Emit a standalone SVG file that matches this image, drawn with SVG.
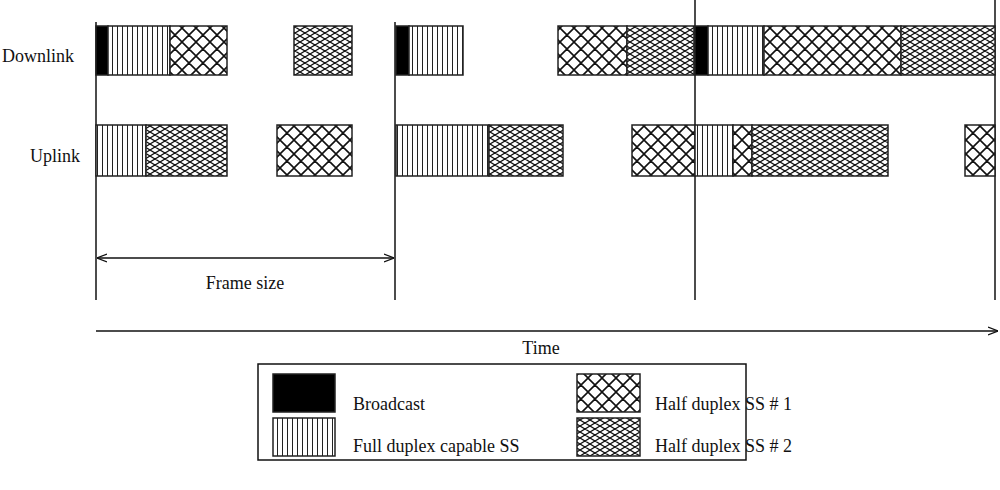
<svg xmlns="http://www.w3.org/2000/svg" width="1000" height="490" viewBox="0 0 1000 490">
<style>
.t{font-family:"Liberation Serif","DejaVu Serif",serif;font-size:18px;fill:#111}
.b{stroke:#222;stroke-width:1.5}
.ln{stroke:#111;stroke-width:1.5;fill:none}
</style>
<defs>
<pattern id="v" width="5" height="10" patternUnits="userSpaceOnUse"><rect width="5" height="10" fill="#fff"/><line x1="2.5" y1="0" x2="2.5" y2="10" stroke="#222" stroke-width="1"/></pattern>
<pattern id="h1" width="14" height="14" patternUnits="userSpaceOnUse"><rect width="14" height="14" fill="#fff"/><path d="M0,0L14,14M14,0L0,14M-7,7L7,-7M7,21L21,7M-7,7L7,21M7,-7L21,7" stroke="#111" stroke-width="1.6"/></pattern>
<pattern id="h2" width="10" height="6" patternUnits="userSpaceOnUse"><rect width="10" height="6" fill="#fff"/><path d="M0,0L10,6M10,0L0,6M-5,3L5,-3M5,9L15,3M-5,3L5,9M5,-3L15,3" stroke="#111" stroke-width="1.2"/></pattern>
<marker id="a" viewBox="0 0 10 10" refX="10" refY="5" markerWidth="10" markerHeight="10" markerUnits="userSpaceOnUse" orient="auto-start-reverse"><path d="M0,1L10,5L0,9" fill="none" stroke="#111" stroke-width="1.2"/></marker>
</defs>
<text class="t" x="2" y="62">Downlink</text>
<text class="t" x="30" y="162">Uplink</text>
<g id="frames">
<line class="ln" x1="96" y1="22" x2="96" y2="300"/>
<line class="ln" x1="395" y1="22" x2="395" y2="300"/>
<line class="ln" x1="695" y1="0" x2="695" y2="300"/>
<line class="ln" x1="995" y1="0" x2="995" y2="300" stroke-width="2.5"/>
</g>
<g id="downlink" class="b">
<rect x="96" y="26" width="12" height="49" fill="#000"/>
<rect x="108" y="26" width="62" height="49" fill="url(#v)"/>
<rect x="170" y="26" width="57" height="49" fill="url(#h1)"/>
<rect x="294" y="26" width="58" height="49" fill="url(#h2)"/>
<rect x="396" y="26" width="13" height="49" fill="#000"/>
<rect x="409" y="26" width="54" height="49" fill="url(#v)"/>
<rect x="558" y="26" width="69" height="49" fill="url(#h1)"/>
<rect x="627" y="26" width="67" height="49" fill="url(#h2)"/>
<rect x="695" y="26" width="13" height="49" fill="#000"/>
<rect x="708" y="26" width="56" height="49" fill="url(#v)"/>
<rect x="764" y="26" width="137" height="49" fill="url(#h1)"/>
<rect x="901" y="26" width="94" height="49" fill="url(#h2)"/>
</g>
<g id="uplink" class="b">
<rect x="96" y="125" width="50" height="51" fill="url(#v)"/>
<rect x="146" y="125" width="81" height="51" fill="url(#h2)"/>
<rect x="277" y="125" width="75" height="51" fill="url(#h1)"/>
<rect x="396" y="125" width="93" height="51" fill="url(#v)"/>
<rect x="489" y="125" width="74" height="51" fill="url(#h2)"/>
<rect x="632" y="125" width="63" height="51" fill="url(#h1)"/>
<rect x="695" y="125" width="38" height="51" fill="url(#v)"/>
<rect x="733" y="125" width="19" height="51" fill="url(#h1)"/>
<rect x="752" y="125" width="136" height="51" fill="url(#h2)"/>
<rect x="965" y="125" width="30" height="51" fill="url(#h1)"/>
</g>
<g id="connectors">
<line class="ln" x1="97" y1="258" x2="394" y2="258" stroke-width="1" marker-start="url(#a)" marker-end="url(#a)"/>
<line class="ln" x1="96" y1="331" x2="998" y2="331" stroke-width="1" marker-end="url(#a)"/>
</g>
<text class="t" x="245" y="289" text-anchor="middle">Frame size</text>
<text class="t" x="541" y="354" text-anchor="middle">Time</text>
<g id="legend">
<rect x="258" y="364" width="488" height="96" fill="none" stroke="#111" stroke-width="1.5"/>
<rect class="b" x="273" y="374" width="62" height="38" fill="#000"/>
<rect class="b" x="273" y="418" width="62" height="38" fill="url(#v)"/>
<rect class="b" x="577" y="374" width="63" height="38" fill="url(#h1)"/>
<rect class="b" x="577" y="418" width="63" height="38" fill="url(#h2)"/>
<text class="t" x="353" y="410">Broadcast</text>
<text class="t" x="353" y="452">Full duplex capable SS</text>
<text class="t" x="655" y="410">Half duplex SS # 1</text>
<text class="t" x="655" y="452">Half duplex SS # 2</text>
</g>
</svg>
